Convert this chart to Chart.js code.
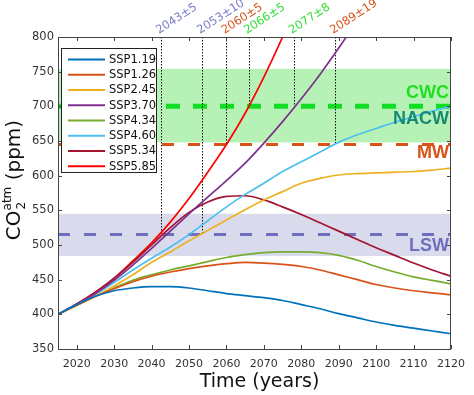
<!DOCTYPE html>
<html>
<head>
<meta charset="utf-8">
<script src="https://cdn.jsdelivr.net/npm/chart.js@4.4.1/dist/chart.umd.min.js"></script>
<style>
html, body { margin: 0; padding: 0; background: #fff; }
</style>
</head>
<body>
<canvas id="co2Chart" width="474" height="395"></canvas>
<script>
// values
const years = [2015, 2020, 2025, 2030, 2035, 2040, 2045, 2050, 2055, 2060, 2065, 2070,
	2075, 2080, 2085, 2090, 2095, 2100, 2105, 2110, 2115, 2120];

const ssp119 = [400, 414, 426, 434, 438, 440, 440, 438, 434, 430, 427, 424, 420, 414, 408, 401, 395, 389, 384, 380, 376, 372];
const ssp126 = [400, 413, 426, 437, 447, 455, 461, 466, 470, 473, 475, 474, 472, 469, 464, 457, 450, 443, 438, 434, 431, 428];
const ssp245 = [400, 413, 426, 441, 457, 475, 490, 506, 521, 536, 551, 565, 577, 589, 596, 601, 603, 604, 605, 606, 608, 611];
const ssp370 = [400, 414, 430, 449, 471, 495, 520, 545, 569, 593, 618, 647, 678, 711, 746, 784, 824, null, null, null, null, null];
const ssp434 = [400, 413, 426, 438, 449, 457, 464, 470, 476, 482, 486, 489, 490, 490, 489, 485, 478, 469, 461, 454, 449, 444];
const ssp460 = [400, 414, 429, 446, 464, 481, 497, 515, 535, 555, 573, 589, 606, 620, 634, 648, 659, 668, 677, 685, 693, 700];
const ssp534 = [400, 415, 432, 452, 475, 500, 525, 547, 562, 570, 571, 565, 555, 544, 532, 520, 508, 496, 485, 474, 464, 455];
const ssp585 = [400, 415, 432, 452, 477, 503, 533, 567, 605, 645, 690, 742, 800, 862, null, null, null, null, null, null, null, null];

const scenarioNames = ['SSP1.19', 'SSP1.26', 'SSP2.45', 'SSP3.70', 'SSP4.34', 'SSP4.60', 'SSP5.34', 'SSP5.85'];
const scenarioValues = [ssp119, ssp126, ssp245, ssp370, ssp434, ssp460, ssp534, ssp585];
const scenarioColors = ['#0072bd', '#d95319', '#edb120', '#7e2f8e', '#77ac30', '#4dbeee', '#a2142f', '#ff0000'];

const xTicks = [2020, 2030, 2040, 2050, 2060, 2070, 2080, 2090, 2100, 2110, 2120];
const yTicks = [350, 400, 450, 500, 550, 600, 650, 700, 750, 800];

// water-mass thresholds (ppm): band low/high, dashed levels
const waterMasses = ['CWC', 'NACW', 'MW', 'LSW'];
const greenBand = [648, 754];
const lswBand = [484, 545];
const cwcLevel = 700;
const mwLevel = 645;
const lswLevel = 515;
const massLabelValues = [719, 682, 632, 499];
const massColors = ['#22dd22', '#178a73', '#d95319', '#6f6fbf'];

// crossing years (dotted markers)
const crossYears = [2042.5, 2053.5, 2060, 2066, 2078, 2089];
const crossLevels = [515, 515, 645, 700, 700, 645];
const crossLabels = ['2043\u00b15', '2053\u00b110', '2060\u00b15', '2066\u00b15', '2077\u00b18', '2089\u00b119'];
const crossColors = ['#7a7ac8', '#7a7ac8', '#d95319', '#33dd33', '#33dd33', '#d95319'];

const tickFont = '"DejaVu Sans", Verdana, sans-serif';

const datasets = scenarioNames.map(function(name, i)
{
	let pts = [];
	years.forEach(function(yr, j)
	{
		if (scenarioValues[i][j] !== null)
		{
			pts.push({x: yr, y: scenarioValues[i][j]});
		}
	});
	return {
		label: name,
		data: pts,
		borderColor: scenarioColors[i],
		backgroundColor: scenarioColors[i],
		borderWidth: 1.7,
		pointRadius: 0,
		tension: 0.4,
		cubicInterpolationMode: 'monotone',
		clip: 0
	};
});

const decorPlugin = {
	id: 'decor',
	beforeDatasetsDraw: function(chart)
	{
		let ctx = chart.ctx;
		let area = chart.chartArea;
		let xs = chart.scales.x;
		let ys = chart.scales.y;

		ctx.save();
		ctx.beginPath();
		ctx.rect(area.left, area.top, area.right - area.left, area.bottom - area.top);
		ctx.clip();

		// bands
		ctx.fillStyle = '#b6f2b6';
		let g0 = ys.getPixelForValue(greenBand[1]);
		let g1 = ys.getPixelForValue(greenBand[0]);
		ctx.fillRect(area.left, g0, area.right - area.left, g1 - g0);
		ctx.fillStyle = '#dadaed';
		let l0 = ys.getPixelForValue(lswBand[1]);
		let l1 = ys.getPixelForValue(lswBand[0]);
		ctx.fillRect(area.left, l0, area.right - area.left, l1 - l0);

		// dashed levels
		let dashLine = function(v, color, width, dash)
		{
			let y = ys.getPixelForValue(v);
			ctx.strokeStyle = color;
			ctx.lineWidth = width;
			ctx.setLineDash(dash);
			ctx.beginPath();
			ctx.moveTo(area.left, y);
			ctx.lineTo(area.right, y);
			ctx.stroke();
		};
		dashLine(cwcLevel, '#11dd22', 5, [14, 13]);
		dashLine(mwLevel, '#d95319', 3, [12, 14]);
		dashLine(lswLevel, '#6f6fbf', 3, [12, 14]);

		// dotted crossing markers
		ctx.strokeStyle = '#111';
		ctx.lineWidth = 1;
		ctx.setLineDash([1.5, 1.5]);
		crossYears.forEach(function(yr, i)
		{
			let x = Math.round(xs.getPixelForValue(yr)) + 0.5;
			ctx.beginPath();
			ctx.moveTo(x, area.top);
			ctx.lineTo(x, ys.getPixelForValue(crossLevels[i]));
			ctx.stroke();
		});
		ctx.restore();
	},
	afterDraw: function(chart)
	{
		let ctx = chart.ctx;
		let area = chart.chartArea;
		let xs = chart.scales.x;
		let ys = chart.scales.y;

		ctx.save();

		// water mass labels
		ctx.font = 'bold 18px "Liberation Sans", Arial, sans-serif';
		ctx.textAlign = 'right';
		ctx.textBaseline = 'middle';
		waterMasses.forEach(function(name, i)
		{
			ctx.fillStyle = massColors[i];
			ctx.fillText(name, area.right - 2, ys.getPixelForValue(massLabelValues[i]));
		});

		// frame and inward ticks
		ctx.strokeStyle = '#444';
		ctx.lineWidth = 1;
		ctx.strokeRect(area.left + 0.5, area.top + 0.5, area.right - area.left - 1, area.bottom - area.top);
		ctx.beginPath();
		xTicks.forEach(function(v)
		{
			let x = Math.round(xs.getPixelForValue(v)) + 0.5;
			ctx.moveTo(x, area.bottom);
			ctx.lineTo(x, area.bottom - 4);
			ctx.moveTo(x, area.top);
			ctx.lineTo(x, area.top + 4);
		});
		yTicks.forEach(function(v)
		{
			let y = Math.round(ys.getPixelForValue(v)) + 0.5;
			ctx.moveTo(area.left, y);
			ctx.lineTo(area.left + 4, y);
			ctx.moveTo(area.right, y);
			ctx.lineTo(area.right - 4, y);
		});
		ctx.stroke();

		// legend box
		let lx = area.left + 3;
		let ly = area.top + 11;
		ctx.fillStyle = '#fff';
		ctx.fillRect(lx, ly, 96, 125);
		ctx.strokeStyle = '#222';
		ctx.strokeRect(lx + 0.5, ly + 0.5, 95, 124);
		ctx.font = '11.5px ' + tickFont;
		ctx.textAlign = 'left';
		ctx.textBaseline = 'middle';
		chart.data.datasets.forEach(function(ds, i)
		{
			let y = ly + 11.5 + i * 15.25;
			ctx.strokeStyle = ds.borderColor;
			ctx.lineWidth = 2;
			ctx.beginPath();
			ctx.moveTo(lx + 7, y);
			ctx.lineTo(lx + 44, y);
			ctx.stroke();
			ctx.fillStyle = '#111';
			ctx.fillText(ds.label, lx + 48, y + 0.5);
		});

		// crossing year labels above the plot
		ctx.font = '11.5px ' + tickFont;
		ctx.textAlign = 'left';
		ctx.textBaseline = 'alphabetic';
		crossYears.forEach(function(yr, i)
		{
			let x = xs.getPixelForValue(yr);
			ctx.save();
			ctx.translate(x - 2, area.top - 3);
			ctx.rotate(-33 * Math.PI / 180);
			ctx.fillStyle = crossColors[i];
			ctx.fillText(crossLabels[i], 0, 0);
			ctx.restore();
		});

		// x title
		ctx.fillStyle = '#111';
		ctx.font = '19px ' + tickFont;
		ctx.textAlign = 'center';
		ctx.textBaseline = 'middle';
		ctx.fillText('Time (years)', (area.left + area.right) / 2 + 5, 382);

		// y title: CO2 with sub/superscript
		ctx.translate(20, 180);
		ctx.rotate(-Math.PI / 2);
		ctx.textAlign = 'left';
		ctx.textBaseline = 'alphabetic';
		ctx.font = '20px ' + tickFont;
		let wCO = ctx.measureText('CO').width;
		let wRest = ctx.measureText(' (ppm)').width;
		ctx.font = '12px ' + tickFont;
		let wAtm = ctx.measureText('atm').width;
		let x0 = -(wCO + wAtm + wRest) / 2;
		ctx.font = '20px ' + tickFont;
		ctx.fillText('CO', x0, 0);
		ctx.font = '12px ' + tickFont;
		ctx.fillText('2', x0 + wCO + 1, 5);
		ctx.fillText('atm', x0 + wCO, -9);
		ctx.font = '20px ' + tickFont;
		ctx.fillText(' (ppm)', x0 + wCO + wAtm, 0);

		ctx.restore();
	}
};

let ctx = document.getElementById('co2Chart').getContext('2d');
let co2Chart = new Chart(ctx, {
	type: 'line',
	data: {
		datasets: datasets
	},
	options: {
		responsive: false,
		devicePixelRatio: 1,
		animation: false,
		layout: {
			padding: {left: 0, right: 18, top: 37, bottom: 0}
		},
		plugins: {
			legend: {display: false},
			tooltip: {enabled: false}
		},
		scales: {
			x: {
				type: 'linear',
				min: 2015,
				max: 2120,
				grid: {display: false, drawTicks: false},
				border: {display: false},
				afterBuildTicks: function(scale)
				{
					scale.ticks = xTicks.map(function(v) { return {value: v}; });
				},
				afterFit: function(scale)
				{
					scale.height = 46;
				},
				ticks: {
					padding: 9,
					maxRotation: 0,
					color: '#333',
					font: {family: tickFont, size: 11},
					callback: function(v) { return String(v); }
				}
			},
			y: {
				min: 350,
				max: 800,
				grid: {display: false, drawTicks: false},
				border: {display: false},
				afterBuildTicks: function(scale)
				{
					scale.ticks = yTicks.map(function(v) { return {value: v}; });
				},
				afterFit: function(scale)
				{
					scale.width = 58;
				},
				ticks: {
					padding: 4,
					color: '#333',
					font: {family: tickFont, size: 11.5},
					callback: function(v) { return String(v); }
				}
			}
		}
	},
	plugins: [decorPlugin]
});
</script>
</body>
</html>
